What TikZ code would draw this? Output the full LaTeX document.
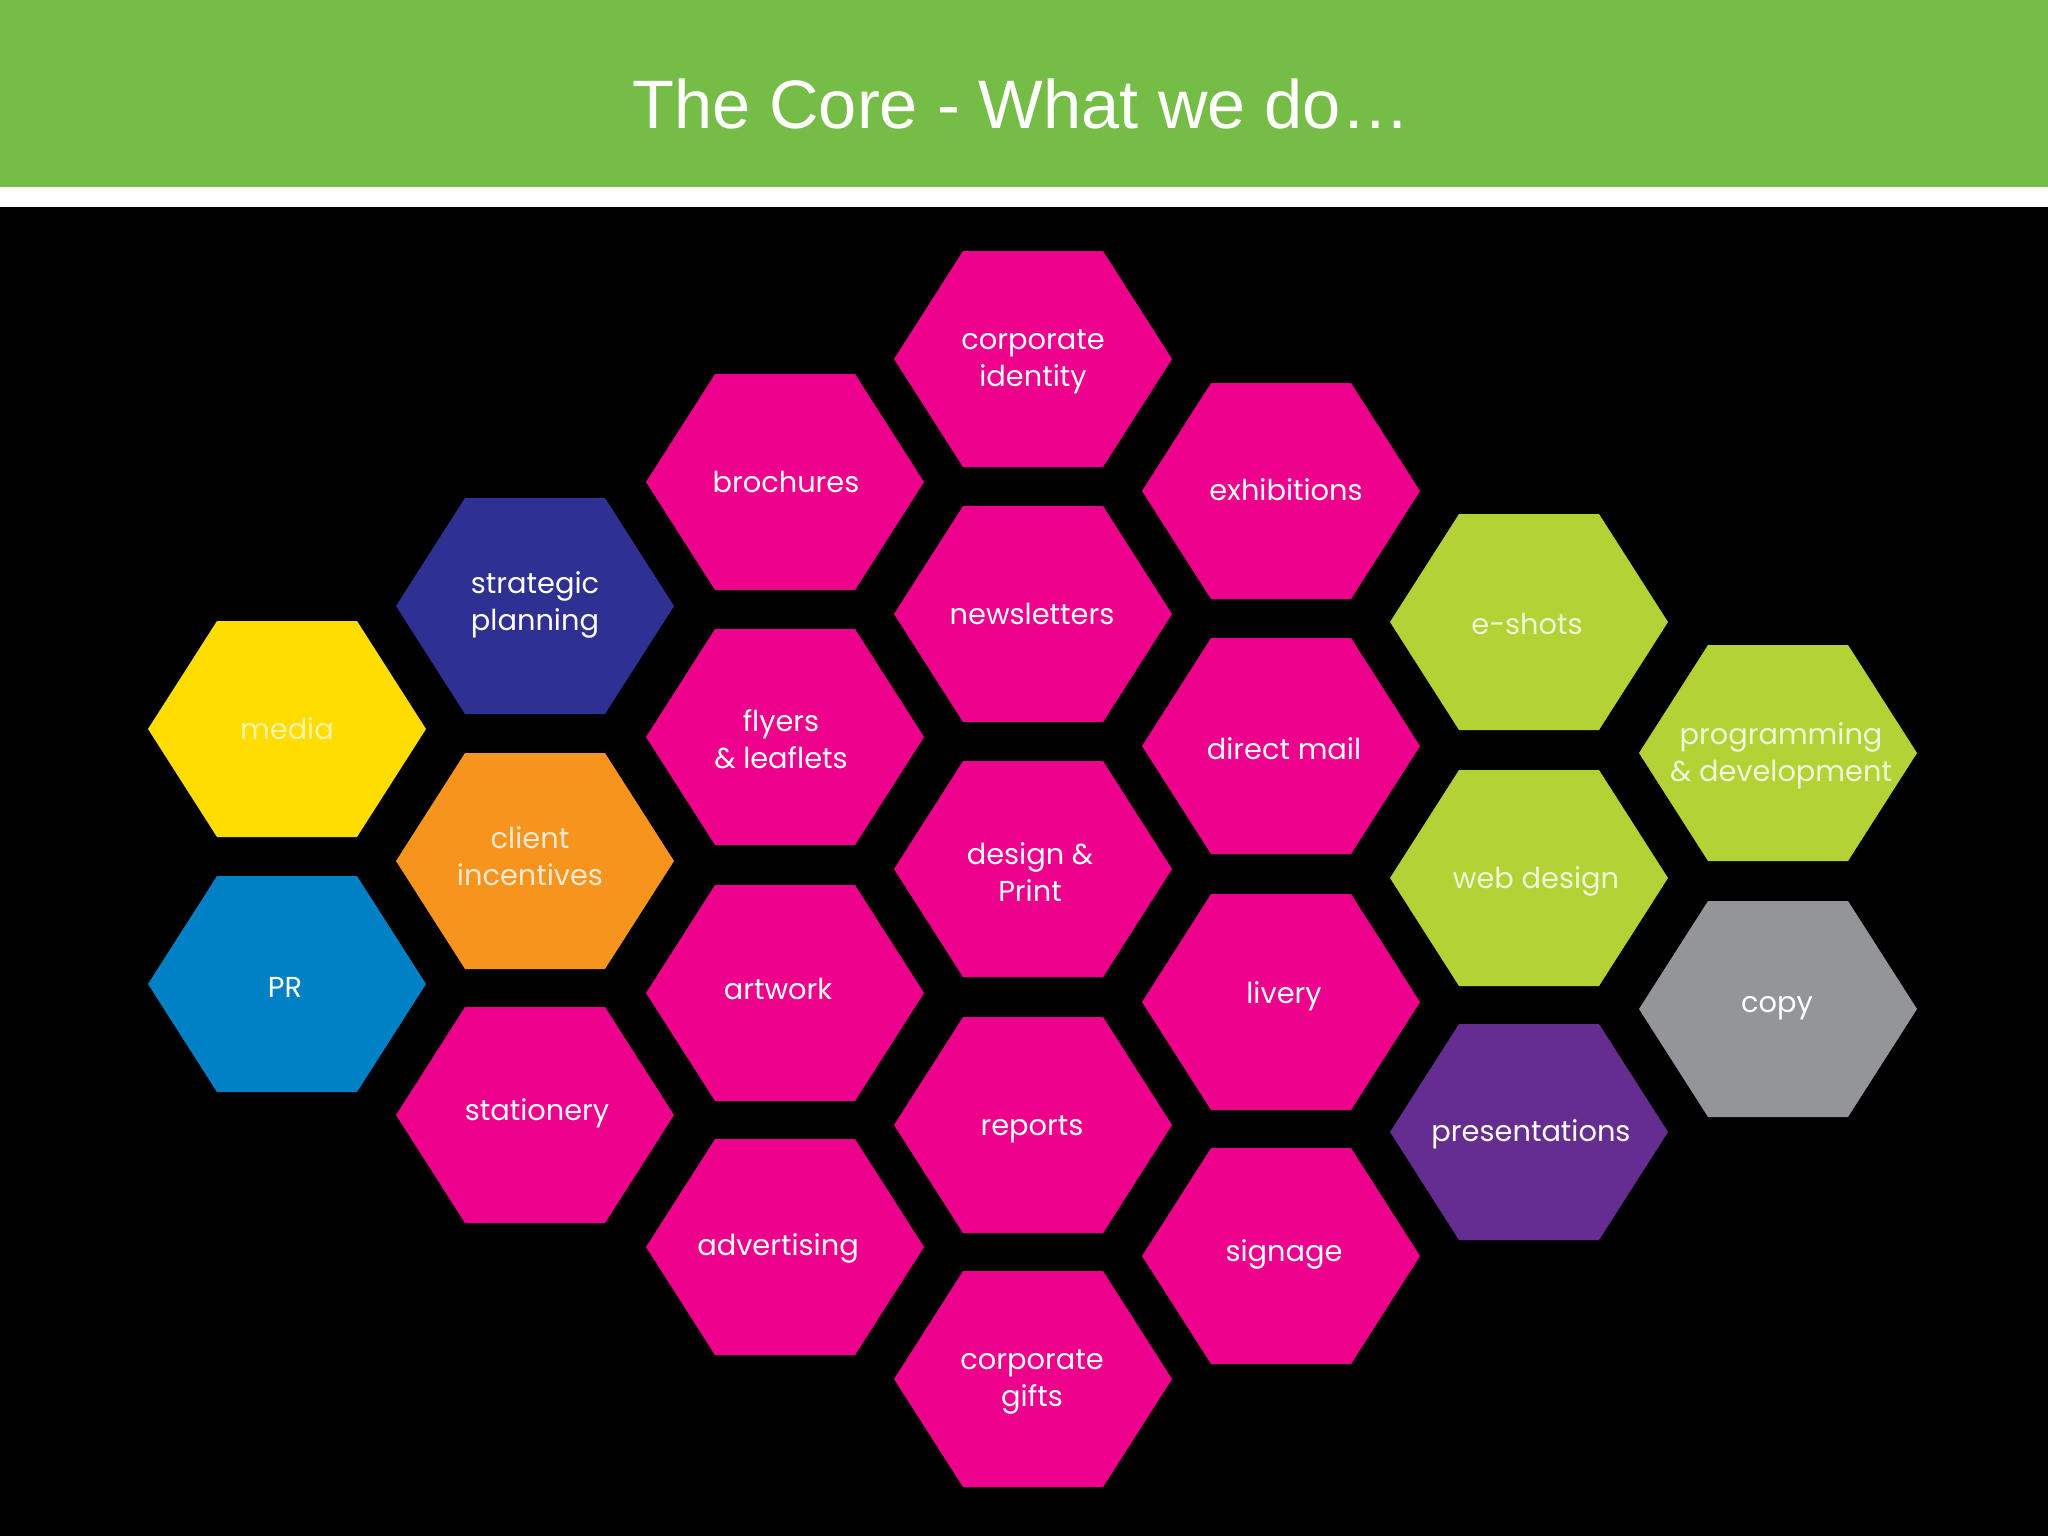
\documentclass[tikz,border=0pt]{standalone}
\usepackage{fontspec}
\setmainfont{Liberation Sans}
\newfontfamily\cellfont{Poppins}
\definecolor{bannergreen}{HTML}{76BD47}
\definecolor{cellpink}{HTML}{EC008C}
\definecolor{cellnavy}{HTML}{2E3192}
\definecolor{cellyellow}{HTML}{FFDD00}
\definecolor{cellorange}{HTML}{F7941E}
\definecolor{cellblue}{HTML}{0081C6}
\definecolor{celllime}{HTML}{B2D235}
\definecolor{cellpurple}{HTML}{662D91}
\definecolor{cellgray}{HTML}{939598}
\tikzset{
  celltext/.style={align=center, text=white, inner sep=0pt, font=\cellfont\fontsize{8.2}{10.6}\selectfont},
}
\newcommand{\hexcell}[3]{
  \fill [#3] (#1-139,#2) -- (#1-70,#2-108) -- (#1+70,#2-108) -- (#1+139,#2)
    -- (#1+70,#2+108) -- (#1-70,#2+108) -- cycle;
}

\begin{document}
\begin{tikzpicture}[x=0.01cm, y=-0.01cm]
        \useasboundingbox (0,0) rectangle (2048,1536);
        %Background
        \fill [white] (0,0) rectangle (2048,1536);
        \fill [bannergreen] (0,0) rectangle (2048,187);
        \fill [black] (0,207) rectangle (2048,1536);
        %Title
        \node [text=white, font=\fontsize{19.5}{23}\selectfont] (title) at (1021,104) {The Core - What we do…};

        %Column 1
        \hexcell{287}{729}{cellyellow}
        \node [celltext, text=cellyellow!35!white] (media) at (287,729) {media};
        \hexcell{287}{984}{cellblue}
        \node [celltext] (pr) at (285,987) {PR};
        %Column 2
        \hexcell{535}{606}{cellnavy}
        \node [celltext] (strategic) at (535,605) {strategic\\planning};
        \hexcell{535}{861}{cellorange}
        \node [celltext, text=cellorange!20!white] (incentives) at (530,856) {client\\incentives};
        \hexcell{535}{1115}{cellpink}
        \node [celltext] (stationery) at (537,1113) {stationery};
        %Column 3
        \hexcell{785}{482}{cellpink}
        \node [celltext] (brochures) at (786,482) {brochures};
        \hexcell{785}{737}{cellpink}
        \node [celltext] (flyers) at (781,739) {flyers\\\& leaflets};
        \hexcell{785}{993}{cellpink}
        \node [celltext] (artwork) at (778,989) {artwork};
        \hexcell{785}{1247}{cellpink}
        \node [celltext] (advertising) at (778,1248) {advertising};
        %Column 4
        \hexcell{1033}{359}{cellpink}
        \node [celltext] (identity) at (1033,362) {corporate\\identity};
        \hexcell{1033}{614}{cellpink}
        \node [celltext] (newsletters) at (1032,614) {newsletters};
        \hexcell{1033}{869}{cellpink}
        \node [celltext] (design) at (1030,872) {design \&\\Print};
        \hexcell{1033}{1125}{cellpink}
        \node [celltext] (reports) at (1032,1129) {reports};
        \hexcell{1033}{1379}{cellpink}
        \node [celltext] (gifts) at (1032,1382) {corporate\\gifts};
        %Column 5
        \hexcell{1281}{491}{cellpink}
        \node [celltext] (exhibitions) at (1286,490) {exhibitions};
        \hexcell{1281}{746}{cellpink}
        \node [celltext] (directmail) at (1284,749) {direct mail};
        \hexcell{1281}{1002}{cellpink}
        \node [celltext] (livery) at (1284,996) {livery};
        \hexcell{1281}{1256}{cellpink}
        \node [celltext] (signage) at (1284,1254) {signage};
        %Column 6
        \hexcell{1529}{622}{celllime}
        \node [celltext, text=celllime!20!white] (eshots) at (1527,624) {e-shots};
        \hexcell{1529}{878}{celllime}
        \node [celltext, text=celllime!20!white] (webdesign) at (1536,881) {web design};
        \hexcell{1529}{1132}{cellpurple}
        \node [celltext] (presentations) at (1531,1134) {presentations};
        %Column 7
        \hexcell{1778}{753}{celllime}
        \node [celltext, text=celllime!20!white] (programming) at (1781,756) {programming\\\& development};
        \hexcell{1778}{1009}{cellgray}
        \node [celltext] (copy) at (1777,1008) {copy};
\end{tikzpicture}
\end{document}
